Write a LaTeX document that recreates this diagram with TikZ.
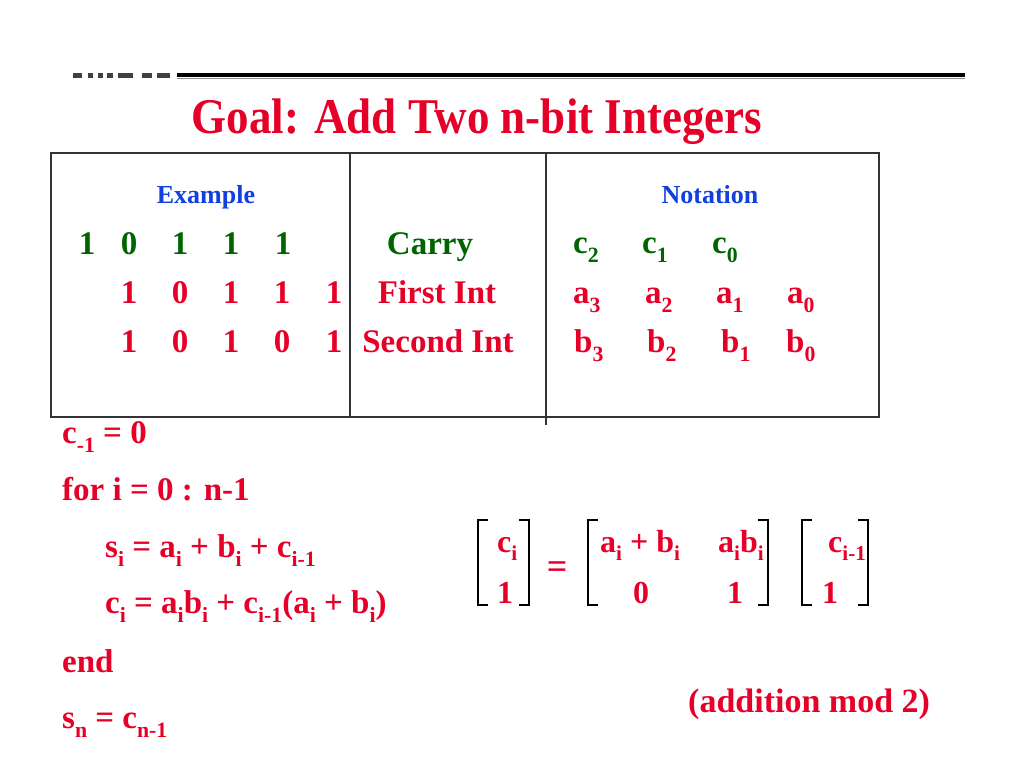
\documentclass[tikz,border=0pt]{standalone}
\usepackage{fontspec}
\setmainfont{Liberation Serif}
\definecolor{tred}{RGB}{230,0,40}
\definecolor{tgreen}{RGB}{0,100,0}
\definecolor{tblue}{RGB}{16,64,224}
\newcommand\lsub[1]{\raisebox{-0.28em}{\scalebox{0.66}{#1}}}
\tikzset{
  txt/.style={inner sep=0pt,font=\bfseries\fontsize{33}{38}\selectfont},
  hdr/.style={inner sep=0pt,text=tblue,font=\bfseries\fontsize{26}{30}\selectfont},
  grn/.style={txt,text=tgreen},
  rd/.style={txt,text=tred},
  mat/.style={inner sep=0pt,text=tred,font=\bfseries\fontsize{32}{36}\selectfont},
  tbl/.style={draw=black!80,line width=1.2pt},
  brk/.style={draw=black,line width=2.6pt}
}
\begin{document}
\begin{tikzpicture}[x=1pt,y=-1pt]
\useasboundingbox (0,0) rectangle (1024,768);
% top rule
\draw[line width=4pt] (177,75) -- (965,75);
\draw[black!45,line width=1pt] (177,78.5) -- (965,78.5);
\foreach \a/\b in {73/82,88/93,98/103,107/113,118/133,142/152,157/170}
  \fill[black!75] (\a,73) rectangle (\b,78);
% title
\node[anchor=base,inner sep=0pt,text=tred,xscale=0.9,font=\bfseries\fontsize{50}{56}\selectfont] (title) at (477,133) {Goal: Add Two n-bit Integers};
% table
\coordinate (tl) at (51,153);
\coordinate (br) at (879,417);
\draw[tbl] (tl) rectangle (br);
\coordinate (v1t) at (350,153);
\coordinate (v1b) at (350,417);
\coordinate (v2t) at (546,153);
\coordinate (v2b) at (546,425);
\draw[tbl] (v1t) -- (v1b);
\draw[tbl] (v2t) -- (v2b);
% headers
\node[hdr,anchor=base] (ex) at (206,203) {Example};
\node[hdr,anchor=base] (no) at (710,203) {Notation};
% carry row
\foreach \x/\d [count=\i] in {87/1,129/0,180/1,231/1,283/1}
  \node[grn,anchor=base] (g\i) at (\x,254) {\d};
\node[grn,anchor=base] (carry) at (430,254) {Carry};
\foreach \x/\d [count=\i] in {129/1,180/0,231/1,282/1,334/1}
  \node[rd,anchor=base] (f\i) at (\x,303) {\d};
\node[rd,anchor=base] (first) at (437,303) {First Int};
\foreach \x/\d [count=\i] in {129/1,180/0,231/1,282/0,334/1}
  \node[rd,anchor=base] (s\i) at (\x,352) {\d};
\node[rd,anchor=base] (second) at (438,352) {Second Int};
% notation
\node[grn,anchor=base west] (c2) at (573,253) {c\lsub{2}};
\node[grn,anchor=base west] (c1) at (642,253) {c\lsub{1}};
\node[grn,anchor=base west] (c0) at (712,253) {c\lsub{0}};
\node[rd,anchor=base west] (a3) at (573,303) {a\lsub{3}};
\node[rd,anchor=base west] (a2) at (645,303) {a\lsub{2}};
\node[rd,anchor=base west] (a1) at (716,303) {a\lsub{1}};
\node[rd,anchor=base west] (a0) at (787,303) {a\lsub{0}};
\node[rd,anchor=base west] (b3) at (574,352) {b\lsub{3}};
\node[rd,anchor=base west] (b2) at (647,352) {b\lsub{2}};
\node[rd,anchor=base west] (b1) at (721,352) {b\lsub{1}};
\node[rd,anchor=base west] (b0) at (786,352) {b\lsub{0}};
% algorithm
\node[rd,anchor=base west] (l1) at (62,443) {c\lsub{-1} = 0};
\node[rd,anchor=base west] (l2) at (62,500) {for i = 0 : n-1};
\node[rd,anchor=base west] (l3) at (105,557) {s\lsub{i} = a\lsub{i} + b\lsub{i} + c\lsub{i-1}};
\node[rd,anchor=base west] (l4) at (105,613) {c\lsub{i} = a\lsub{i}b\lsub{i} + c\lsub{i-1}(a\lsub{i} + b\lsub{i})};
\node[rd,anchor=base west] (l5) at (62,672) {end};
\node[rd,anchor=base west] (l6) at (62,728) {s\lsub{n} = c\lsub{n-1}};
% matrix equation
\draw[brk] (488,520) -- (478,520) -- (478,605) -- (488,605);
\draw[brk] (519,520) -- (529,520) -- (529,605) -- (519,605);
\node[mat,anchor=base west] (ci) at (497,552) {c\lsub{i}};
\node[mat,anchor=base west] (one1) at (497,603) {1};
\node[mat,font=\bfseries\fontsize{36}{40}\selectfont] (eq) at (557,570) {=};
\draw[brk] (598,520) -- (588,520) -- (588,605) -- (598,605);
\draw[brk] (758,520) -- (768,520) -- (768,605) -- (758,605);
\node[mat,anchor=base west] (m11) at (600,552) {a\lsub{i} + b\lsub{i}};
\node[mat,anchor=base west] (m12) at (718,552) {a\lsub{i}b\lsub{i}};
\node[mat,anchor=base] (m21) at (641,603) {0};
\node[mat,anchor=base] (m22) at (735,603) {1};
\draw[brk] (812,520) -- (802,520) -- (802,605) -- (812,605);
\draw[brk] (858,520) -- (868,520) -- (868,605) -- (858,605);
\node[mat,anchor=base west] (cim) at (828,552) {c\lsub{i-1}};
\node[mat,anchor=base west] (one2) at (822,603) {1};
% note
\node[rd,anchor=base west,font=\bfseries\fontsize{34}{38}\selectfont] (mod) at (688,712) {(addition mod 2)};
\end{tikzpicture}
\end{document}
